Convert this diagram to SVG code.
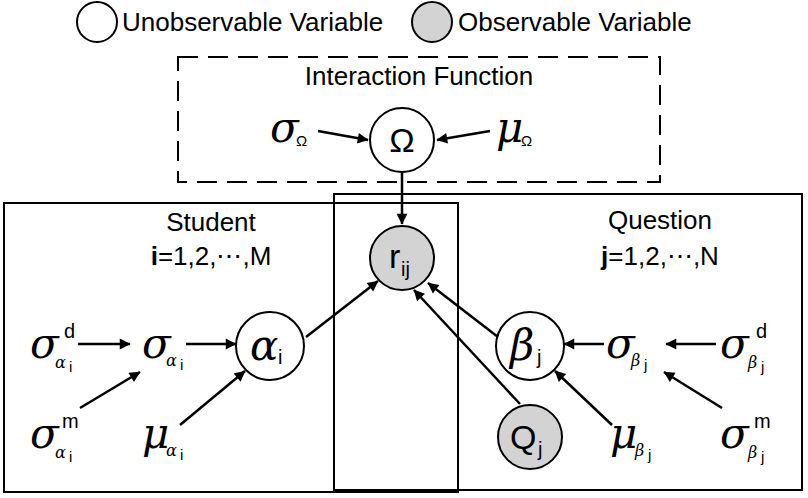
<svg xmlns="http://www.w3.org/2000/svg" width="808" height="498" viewBox="0 0 808 498">
<style>
text{font-family:"Liberation Sans",Arial,sans-serif;fill:#000}
.g{font-family:"DejaVu Serif","Liberation Serif",serif;font-style:italic}
.b{font-size:42px}.s{font-size:20px}.t{font-size:26px}.u{font-size:16px}.v{font-size:15px}.L{font-size:34px}
.n{stroke:#000;stroke-width:2;fill:#fff}.o{stroke:#000;stroke-width:2;fill:#d3d3d3}
.c line{stroke:#000;stroke-width:2.5;marker-end:url(#a)}
</style>
<defs><marker id="a" viewBox="0 0 10 10" refX="9" refY="5" markerWidth="6" markerHeight="6" orient="auto" markerUnits="userSpaceOnUse" style="overflow:visible"><path d="M0,0L10,5L0,10z" transform="scale(1.8) translate(-4.5,-2.2)"/></marker></defs>
<g id="legend">
<circle cx="97" cy="22" r="20" class="n"/><text x="122" y="31" class="t">Unobservable Variable</text>
<circle cx="432" cy="22" r="20" class="o"/><text x="458" y="31" class="t">Observable Variable</text>
</g>
<g id="boxes" fill="none" stroke="#000" stroke-width="2">
<rect x="178" y="57" width="482" height="125" stroke-dasharray="20,10"/>
<rect x="4" y="203" width="454" height="289"/>
<rect x="334" y="194" width="468" height="296"/>
</g>
<text x="419" y="85" text-anchor="middle" class="t">Interaction Function</text>
<text x="211" y="231" text-anchor="middle" class="t">Student</text>
<text x="211" y="265" text-anchor="middle" class="t"><tspan font-weight="bold">i</tspan>=1,2,⋯,M</text>
<text x="660" y="229" text-anchor="middle" class="t">Question</text>
<text x="660" y="265" text-anchor="middle" class="t"><tspan font-weight="bold">j</tspan>=1,2,⋯,N</text>
<g class="c" id="connectors">
<line x1="318" y1="131" x2="368" y2="140"/>
<line x1="490" y1="131" x2="437" y2="140"/>
<line x1="402" y1="172" x2="402" y2="224"/>
<line x1="78" y1="344" x2="130" y2="344"/>
<line x1="186" y1="344" x2="236" y2="344"/>
<line x1="80" y1="408" x2="140" y2="372"/>
<line x1="180" y1="425" x2="245" y2="371"/>
<line x1="306" y1="337" x2="378" y2="281"/>
<line x1="498" y1="337" x2="428" y2="283"/>
<line x1="520" y1="404" x2="414" y2="290"/>
<line x1="612" y1="425" x2="555" y2="371"/>
<line x1="604" y1="344" x2="564" y2="344"/>
<line x1="716" y1="344" x2="666" y2="344"/>
<line x1="722" y1="408" x2="664" y2="372"/>
</g>
<g id="omega"><circle cx="402" cy="140" r="32" class="n"/><text x="402" y="152" text-anchor="middle" class="L">Ω</text></g>
<g id="sigmaO"><text x="270" y="142" class="g b">σ</text><text x="296" y="146" class="v">Ω</text></g>
<g id="muO"><text x="496" y="142" class="g b">μ</text><text x="521" y="146" class="v">Ω</text></g>
<g id="rij"><circle cx="402" cy="258" r="32" class="o"/><text x="389" y="268" class="L">r</text><text x="401" y="276" class="s">ij</text></g>
<g id="alpha"><circle cx="270" cy="346" r="34" class="n"/><text x="250" y="360" class="g b">α</text><text x="278" y="364" class="s">i</text></g>
<g id="beta"><circle cx="530" cy="346" r="34" class="n"/><text x="510" y="360" class="g b">β</text><text x="537" y="364" class="s">j</text></g>
<g id="Qj"><circle cx="530" cy="437" r="32" class="o"/><text x="510" y="449" class="L">Q</text><text x="538" y="456" class="s">j</text></g>
<g id="sigd_a"><text x="30" y="358" class="g b">σ</text><text x="64" y="338" class="s">d</text><text x="55" y="368" class="g u">α</text><text x="69" y="372" class="v">i</text></g>
<g id="sig_a"><text x="142" y="358" class="g b">σ</text><text x="166" y="366" class="g u">α</text><text x="180" y="370" class="v">i</text></g>
<g id="sigm_a"><text x="30" y="448" class="g b">σ</text><text x="62" y="428" class="s">m</text><text x="55" y="458" class="g u">α</text><text x="69" y="462" class="v">i</text></g>
<g id="mu_a"><text x="142" y="448" class="g b">μ</text><text x="166" y="456" class="g u">α</text><text x="180" y="460" class="v">i</text></g>
<g id="sig_b"><text x="606" y="358" class="g b">σ</text><text x="631" y="366" class="g u">β</text><text x="644" y="370" class="v">j</text></g>
<g id="sigd_b"><text x="720" y="358" class="g b">σ</text><text x="756" y="338" class="s">d</text><text x="748" y="368" class="g u">β</text><text x="761" y="372" class="v">j</text></g>
<g id="mu_b"><text x="610" y="448" class="g b">μ</text><text x="635" y="456" class="g u">β</text><text x="648" y="460" class="v">j</text></g>
<g id="sigm_b"><text x="720" y="448" class="g b">σ</text><text x="754" y="428" class="s">m</text><text x="748" y="458" class="g u">β</text><text x="761" y="462" class="v">j</text></g>
</svg>
